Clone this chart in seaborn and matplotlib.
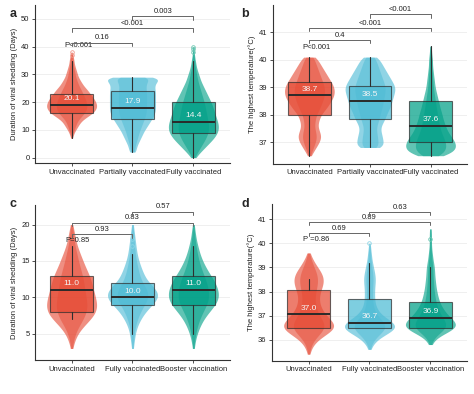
import numpy as np
import pandas as pd
import seaborn as sns
import matplotlib.pyplot as plt

sns.set_style("white")
plt.rcParams['font.family'] = ['Liberation Sans', 'DejaVu Sans']

palette = ["#E64B35", "#4DBBD5", "#00A087"]
flier_colors = ["#F19A8E", "#8FD6E6", "#6CC7B2"]

groups_ab = ["Unvaccinated", "Partially vaccinated", "Fully vaccinated"]
groups_cd = ["Unvaccinated", "Fully vaccinated", "Booster vaccination"]

# ---- panel a: duration of viral shedding (days) ----
a_levels = np.arange(0, 41)
a_unvac = [0, 0, 0, 0, 0, 0, 0, 1, 2, 3, 5, 7, 9, 11, 15, 20, 25, 28, 30, 30, 29,
           27, 25, 22, 20, 17, 14, 12, 10, 8, 7, 6, 5, 4, 3, 3, 2, 2, 1, 0, 0]
a_partial = [0, 0, 4, 4, 5, 6, 8, 9, 11, 12, 14, 16, 18, 20, 22, 24, 25, 26, 26, 26, 26,
             26, 26, 26, 26, 25, 25, 26, 30, 34, 0, 0, 0, 0, 0, 0, 0, 0, 0, 0, 0]
a_fully = [3, 5, 8, 11, 14, 17, 20, 23, 25, 27, 28, 28, 28, 27, 26, 25, 24, 23, 22, 21, 20,
           18, 17, 15, 14, 12, 11, 9, 8, 7, 6, 5, 4, 3, 3, 2, 2, 1, 1, 1, 1]
a_q1 = [16, 14, 9]
a_med = [19, 18, 13]
a_q3 = [23, 24, 20]
a_wlo = [7, 2, 0]
a_whi = [35, 29, 35]
a_fliers = [[37, 38], [], [38, 39, 40]]
a_means = ["20.1", "17.9", "14.4"]
a_p = ["0.16", "<0.001", "0.003"]

# ---- panel b: highest temperature ----
b_levels = np.round(np.arange(36.5, 40.55, 0.1), 1)
b_unvac = [1, 2, 3, 4, 5, 6, 7, 7, 7, 6, 5, 5, 5, 6, 6, 7, 8, 10, 11, 12, 13,
           14, 15, 15, 15, 15, 14, 13, 12, 11, 10, 9, 8, 7, 6, 5, 5, 0, 0, 0, 0]
b_partial = [0, 0, 0, 10, 9, 8, 8, 8, 7, 7, 6, 7, 8, 9, 10, 10, 11, 12, 13, 13, 14,
             14, 15, 15, 16, 16, 15, 14, 13, 12, 11, 10, 9, 8, 7, 6, 6, 0, 0, 0, 0]
b_fully = [16, 22, 25, 26, 26, 25, 23, 21, 19, 17, 16, 15, 14, 13, 12, 12, 11, 10, 9, 9, 8,
           7, 7, 6, 5, 5, 4, 4, 4, 3, 3, 3, 2, 2, 2, 2, 2, 1, 1, 1, 1]
b_q1 = [38.0, 37.85, 37.0]
b_med = [38.7, 38.5, 37.6]
b_q3 = [39.2, 39.05, 38.5]
b_wlo = [36.5, 36.8, 36.5]
b_whi = [40.1, 40.1, 40.5]
b_fliers = [[], [], []]
b_means = ["38.7", "38.5", "37.6"]
b_p = ["0.4", "<0.001", "<0.001"]

# ---- panel c: duration of viral shedding, booster cohort ----
c_levels = np.arange(2, 22)
c_unvac = [0, 1, 3, 6, 12, 20, 26, 27, 25, 23, 21, 19, 15, 12, 9, 6, 4, 3, 1, 0]
c_fully = [0, 1, 2, 3, 5, 9, 14, 22, 30, 28, 18, 13, 10, 7, 5, 4, 3, 2, 1, 0]
c_booster = [0, 1, 2, 4, 7, 11, 17, 24, 28, 27, 24, 19, 14, 10, 7, 5, 3, 2, 1, 0]
c_q1 = [8, 9, 9]
c_med = [11, 10, 11]
c_q3 = [13, 12, 13]
c_wlo = [7, 5, 5]
c_whi = [17, 16, 17]
c_fliers = [[], [17, 18], []]
c_means = ["11.0", "10.0", "11.0"]
c_p = ["0.93", "0.83", "0.57"]

# ---- panel d: highest temperature, booster cohort ----
d_levels = np.round(np.arange(35.4, 41.05, 0.2), 1)
d_unvac = [1, 2, 4, 8, 14, 22, 24, 20, 15, 12, 10, 9, 9, 10, 12, 13, 13, 11, 8, 5, 3, 1,
           0, 0, 0, 0, 0, 0, 0]
d_fully = [0, 1, 3, 7, 14, 26, 30, 20, 12, 8, 6, 5, 5, 5, 5, 6, 6, 5, 4, 3, 2, 2, 1, 1,
           0, 0, 0, 0, 0]
d_booster = [0, 0, 1, 3, 9, 22, 28, 22, 16, 13, 10, 8, 7, 6, 5, 5, 4, 4, 4, 3, 2, 2, 1, 1,
             1, 1, 1, 0, 0]
d_q1 = [36.5, 36.5, 36.5]
d_med = [37.05, 36.7, 36.9]
d_q3 = [38.05, 37.7, 37.55]
d_wlo = [36.5, 36.5, 36.5]
d_whi = [38.5, 39.2, 39.0]
d_fliers = [[], [40.0], [40.2]]
d_means = ["37.0", "36.7", "36.9"]
d_p = ["0.69", "0.89", "0.63"]


def draw_panel(ax, groups, levels, counts, q1, med, q3, wlo, whi, fliers, means,
               ylim, yticks, ylabel, pvals, br_y, br_h, ptext, pt_xy, bw):
    vals = [np.repeat(levels, c) for c in counts]
    df = pd.DataFrame({'group': np.concatenate([[g] * len(v) for g, v in zip(groups, vals)]),
                       'value': np.concatenate(vals)})
    # outer light violin + narrower darker inner violin
    for w, al in [(0.82, 0.62), (0.5, 0.5)]:
        sns.violinplot(data=df, x='group', y='value', hue='group', order=groups, hue_order=groups,
                       palette=palette, inner=None, cut=0, density_norm='width', width=w,
                       bw_adjust=bw, linewidth=0, saturation=1, alpha=al, legend=False, ax=ax)
    stats = [dict(q1=q1[i], med=med[i], q3=q3[i], whislo=wlo[i], whishi=whi[i], fliers=fliers[i])
             for i in range(3)]
    bp = ax.bxp(stats, positions=[0, 1, 2], widths=0.7, patch_artist=True, showcaps=False,
                manage_ticks=False, zorder=3,
                boxprops=dict(edgecolor='#2e2e2e', linewidth=0.8),
                whiskerprops=dict(color='#2e2e2e', linewidth=0.8),
                medianprops=dict(color='#2a2a2a', linewidth=1.4),
                flierprops=dict(marker='o', markerfacecolor='none', markersize=2.6,
                                markeredgewidth=0.6))
    for i, box in enumerate(bp['boxes']):
        box.set_facecolor(palette[i])
        box.set_alpha(0.72)
        box.set_edgecolor('#2e2e2e')
        bp['fliers'][i].set_markeredgecolor(flier_colors[i])
    for i, m in enumerate(means):
        ax.annotate(m, (i, med[i]), xytext=(0, 4.5), textcoords='offset points',
                    ha='center', va='center', color='#f4f4f4', fontsize=6, zorder=5)

    # significance brackets
    pairs = [(0, 1), (0, 2), (1, 2)]
    for (x1, x2), y, lab in zip(pairs, br_y, pvals):
        ax.plot([x1, x1, x2, x2], [y - br_h, y, y, y - br_h], color='#666666', lw=0.7,
                clip_on=False, zorder=4)
        ax.text((x1 + x2) / 2, y + br_h * 0.3, lab, ha='center', va='bottom',
                fontsize=5.5, color='#222222', clip_on=False)
    ax.text(pt_xy[0], pt_xy[1], ptext, ha='center', va='center', fontsize=5.5, color='#222222')

    ax.set_xlim(-0.6, 2.6)
    ax.set_ylim(*ylim)
    ax.set_yticks(yticks)
    ax.set_xlabel('')
    ax.set_ylabel(ylabel, fontsize=5.5, labelpad=2, color='#222222')
    ax.set_axisbelow(True)
    ax.yaxis.grid(True, color='#ececec', lw=0.6)
    ax.spines[['top', 'right']].set_visible(False)
    for s in ['left', 'bottom']:
        ax.spines[s].set_color('#333333')
        ax.spines[s].set_linewidth(0.8)
    ax.tick_params(axis='both', length=2.5, width=0.6, color='#333333', labelsize=5.5,
                   pad=1.5, labelcolor='#222222', bottom=True, left=True)


fig = plt.figure(figsize=(4.74, 3.94), dpi=100)
ax_a = fig.add_axes([0.074, 0.586, 0.411, 0.401])
ax_b = fig.add_axes([0.576, 0.584, 0.409, 0.403])
ax_c = fig.add_axes([0.074, 0.086, 0.411, 0.394])
ax_d = fig.add_axes([0.574, 0.084, 0.411, 0.398])

draw_panel(ax_a, groups_ab, a_levels, [a_unvac, a_partial, a_fully], a_q1, a_med, a_q3,
           a_wlo, a_whi, a_fliers, a_means, (-2, 55), [0, 10, 20, 30, 40, 50],
           "Duration of viral shedding (Days)", a_p, [41.5, 46.7, 50.9], 1.3,
           "P<0.001", (0.11, 40.3), 0.5)
draw_panel(ax_b, groups_ab, b_levels, [b_unvac, b_partial, b_fully], b_q1, b_med, b_q3,
           b_wlo, b_whi, b_fliers, b_means, (36.2, 42.0), [37, 38, 39, 40, 41],
           "The highest temperature(\u00b0C)", b_p, [40.73, 41.18, 41.67], 0.13,
           "P<0.001", (0.12, 40.47), 0.5)
draw_panel(ax_c, groups_cd, c_levels, [c_unvac, c_fully, c_booster], c_q1, c_med, c_q3,
           c_wlo, c_whi, c_fliers, c_means, (1.4, 22.7), [5, 10, 15, 20],
           "Duration of viral shedding (Days)", c_p, [18.66, 20.27, 21.78], 0.5,
           "P=0.85", (0.09, 17.8), 0.7)
draw_panel(ax_d, groups_cd, d_levels, [d_unvac, d_fully, d_booster], d_q1, d_med, d_q3,
           d_wlo, d_whi, d_fliers, d_means, (35.12, 41.63), [36, 37, 38, 39, 40, 41],
           "The highest temperature(\u00b0C)", d_p, [40.43, 40.89, 41.3], 0.12,
           "P =0.86", (0.12, 40.15), 0.6)

for lab, x, y in [("a", 0.027, 0.965), ("b", 0.517, 0.965), ("c", 0.027, 0.482), ("d", 0.517, 0.482)]:
    fig.text(x, y, lab, fontsize=9, fontweight='bold', ha='center', va='center')

fig.savefig('out.png', dpi=100)
